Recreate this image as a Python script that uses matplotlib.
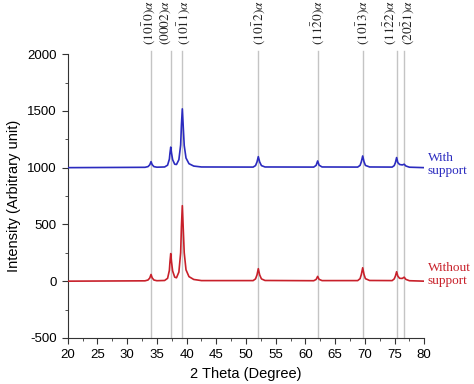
import matplotlib
matplotlib.use("Agg")
import matplotlib.pyplot as plt
from matplotlib.ticker import MultipleLocator

# 2 theta points (degree)
two_theta = [20, 33.0, 33.5, 33.8, 34.01, 34.2, 34.5, 35.0,
             36.3, 36.8, 37.1, 37.2, 37.33, 37.45, 37.65, 38.0, 38.3,
             38.7, 39.0, 39.13, 39.28, 39.43, 39.6, 39.9, 40.4, 41.2, 42.5,
             51.2, 51.6, 51.85, 52.07, 52.3, 52.6, 53.2,
             61.4, 61.8, 62.06, 62.3, 62.8,
             68.8, 69.2, 69.42, 69.64, 69.86, 70.1, 70.8,
             74.6, 74.95, 75.15, 75.35, 75.55, 75.85, 76.3, 76.63, 76.9, 77.5, 80]

without_support = [0, 3, 10, 28, 59, 30, 10, 4,
                   6, 25, 95, 170, 243, 175, 90, 35, 30,
                   80, 250, 480, 665, 470, 250, 100, 40, 15, 5,
                   5, 20, 55, 110, 55, 20, 6,
                   4, 15, 42, 16, 5,
                   5, 22, 60, 118, 60, 22, 6,
                   5, 20, 45, 83, 45, 25, 24, 35, 16, 4, 0]

with_support = [1000, 1003, 1009, 1025, 1053, 1027, 1009, 1004,
                1006, 1022, 1075, 1128, 1181, 1132, 1070, 1030, 1028,
                1070, 1200, 1375, 1518, 1365, 1195, 1085, 1035, 1014, 1006,
                1005, 1018, 1050, 1097, 1050, 1018, 1006,
                1005, 1020, 1059, 1022, 1006,
                1005, 1020, 1053, 1103, 1053, 1020, 1006,
                1005, 1018, 1045, 1089, 1045, 1028, 1024, 1030, 1015, 1004, 1000]

# alpha-Ti reflections
peak_pos = [34.01, 37.33, 39.28, 52.07, 62.06, 69.64, 75.35, 76.63]
peak_labels = [r"$(10\bar{1}0)\alpha$", r"$(0002)\alpha$", r"$(10\bar{1}1)\alpha$",
               r"$(10\bar{1}2)\alpha$", r"$(11\bar{2}0)\alpha$", r"$(10\bar{1}3)\alpha$",
               r"$(11\bar{2}2)\alpha$", r"$(20\bar{2}1)\alpha$"]
label_shift = [-0.5, -0.8, 0.2, 0, 0, 0, -1.2, 0.6]

plt.rcParams["font.family"] = ["Liberation Sans", "DejaVu Sans"]
plt.rcParams["mathtext.fontset"] = "stix"
plt.rcParams["axes.unicode_minus"] = False

fig = plt.figure(figsize=(4.74, 3.84), dpi=100)
ax = fig.add_axes([0.143, 0.12, 0.752, 0.739])

for p, lab, s in zip(peak_pos, peak_labels, label_shift):
    ax.plot([p, p], [-500, 2030], color="#c4c4c4", lw=1.0, clip_on=False, zorder=1)
    ax.text(p + s, 2080, lab, rotation=90, ha="center", va="bottom",
            fontsize=9.6, color="#222222")

ax.plot(two_theta, with_support, color="#2b2bbf", lw=1.2, zorder=3)
ax.plot(two_theta, without_support, color="#c8202a", lw=1.2, zorder=3)

ax.text(80.6, 1030, "With\nsupport", color="#2b2bbf", fontsize=9.5,
        family=["Liberation Serif"], va="center", ha="left", linespacing=1.1)
ax.text(80.6, 60, "Without\nsupport", color="#c8202a", fontsize=9.5,
        family=["Liberation Serif"], va="center", ha="left", linespacing=1.1)

ax.set_xlim(20, 80)
ax.set_ylim(-500, 2000)
ax.xaxis.set_major_locator(MultipleLocator(5))
ax.xaxis.set_minor_locator(MultipleLocator(2.5))
ax.yaxis.set_major_locator(MultipleLocator(500))
ax.yaxis.set_minor_locator(MultipleLocator(250))
ax.tick_params(which="both", direction="out", labelsize=9.5, color="#333333")
ax.tick_params(which="major", length=4.5)
ax.tick_params(which="minor", length=2.5)
ax.spines["top"].set_visible(False)
ax.spines["right"].set_visible(False)
ax.spines["left"].set_color("#333333")
ax.spines["bottom"].set_color("#333333")

ax.set_xlabel("2 Theta (Degree)", fontsize=10.5)
ax.set_ylabel("Intensity (Arbitrary unit)", fontsize=10.5)

fig.savefig("out.png", dpi=100)
